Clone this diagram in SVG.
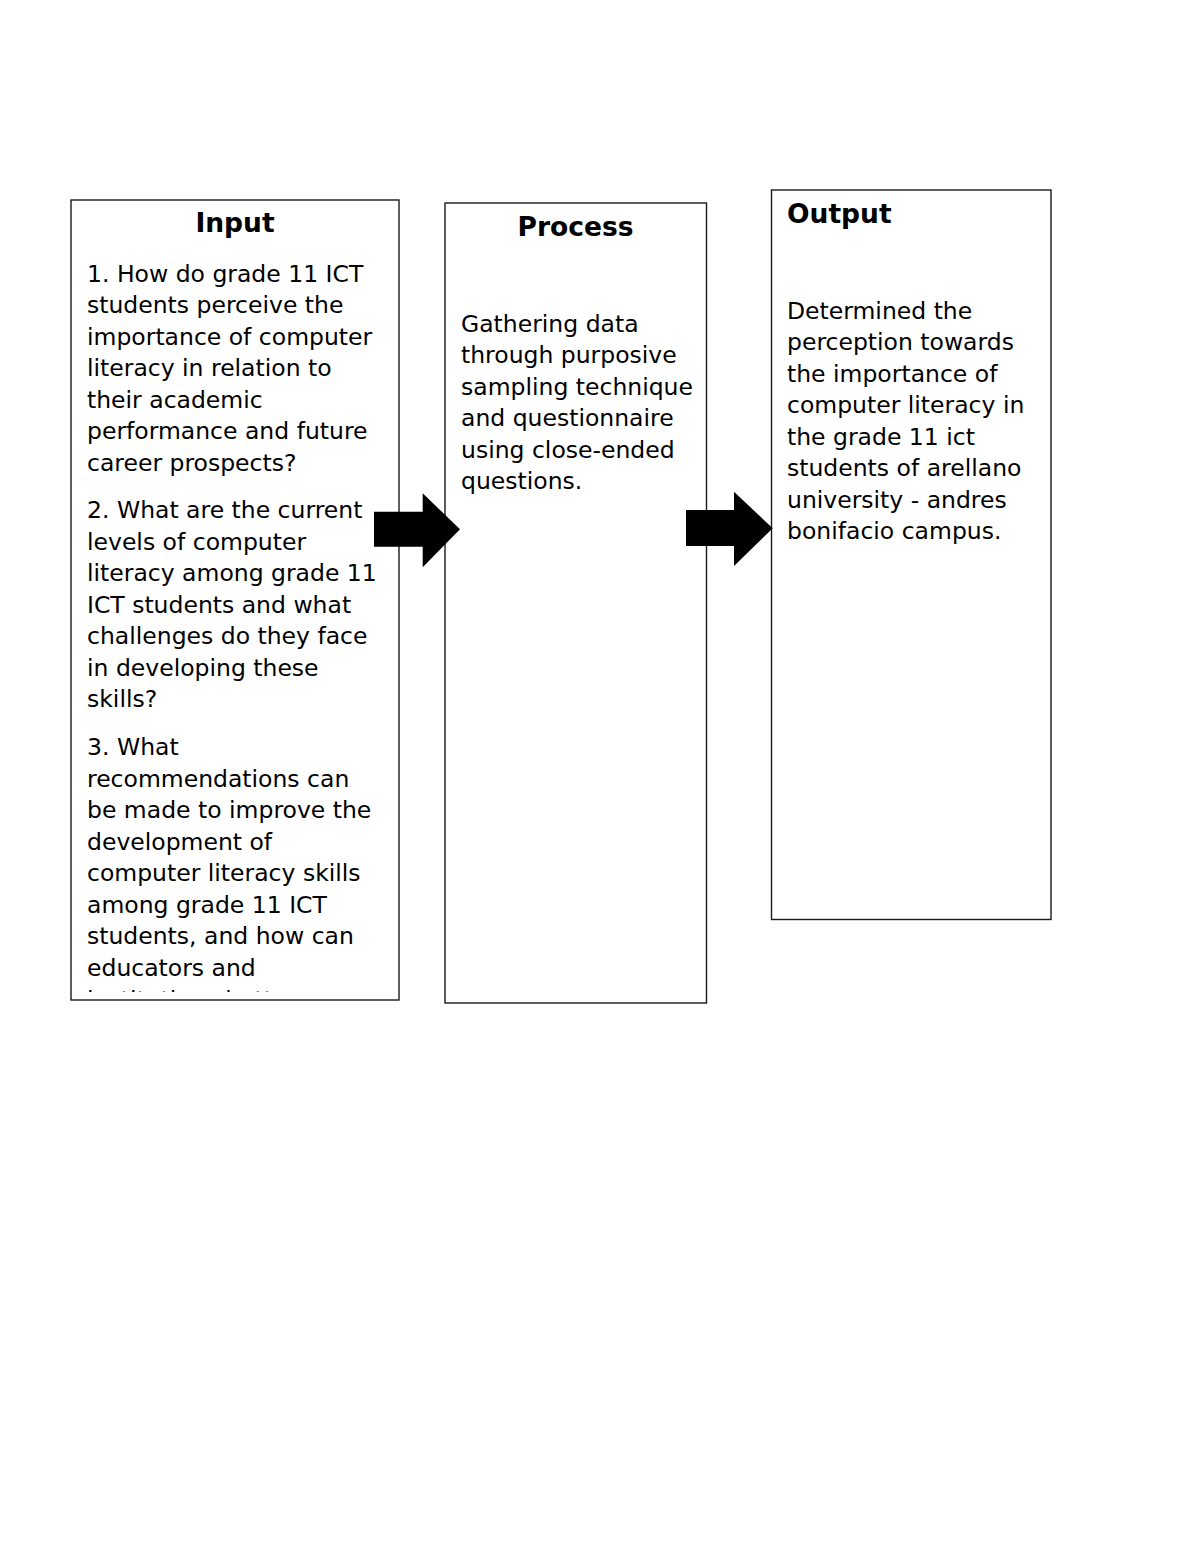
<svg xmlns="http://www.w3.org/2000/svg" width="1200" height="1553" viewBox="0 0 1200 1553">
<style>
.box{fill:#fff;stroke:#1a1a1a;stroke-width:1.4}
.h{font-family:"DejaVu Sans","Liberation Sans",sans-serif;font-weight:bold;font-size:26.5px;fill:#000}
.t{font-family:"DejaVu Sans","Liberation Sans",sans-serif;font-size:23.5px;fill:#000}
.arrow{fill:#000}
</style>
<defs>
<clipPath id="inputClip"><rect x="72" y="201" width="326" height="791"/></clipPath>
</defs>
<rect width="1200" height="1553" fill="#fff"/>
<g id="input">
<rect class="box" x="71" y="200" width="328" height="800"/>
<text class="h" x="235" y="232" text-anchor="middle">Input</text>
<g clip-path="url(#inputClip)">
<text class="t" x="87" y="281.7">1. How do grade 11 ICT</text>
<text class="t" x="87" y="313.2">students perceive the</text>
<text class="t" x="87" y="344.7">importance of computer</text>
<text class="t" x="87" y="376.2">literacy in relation to</text>
<text class="t" x="87" y="407.7">their academic</text>
<text class="t" x="87" y="439.2">performance and future</text>
<text class="t" x="87" y="470.7">career prospects?</text>
<text class="t" x="87" y="518">2. What are the current</text>
<text class="t" x="87" y="549.5">levels of computer</text>
<text class="t" x="87" y="581">literacy among grade 11</text>
<text class="t" x="87" y="612.5">ICT students and what</text>
<text class="t" x="87" y="644">challenges do they face</text>
<text class="t" x="87" y="675.5">in developing these</text>
<text class="t" x="87" y="707">skills?</text>
<text class="t" x="87" y="755">3. What</text>
<text class="t" x="87" y="786.5">recommendations can</text>
<text class="t" x="87" y="818">be made to improve the</text>
<text class="t" x="87" y="849.5">development of</text>
<text class="t" x="87" y="881">computer literacy skills</text>
<text class="t" x="87" y="912.5">among grade 11 ICT</text>
<text class="t" x="87" y="944">students, and how can</text>
<text class="t" x="87" y="975.5">educators and</text>
<text class="t" x="87" y="1007.5">institutions better</text>
</g>
</g>
<g id="process">
<rect class="box" x="445" y="203" width="261.5" height="800"/>
<text class="h" x="575.5" y="235.5" text-anchor="middle">Process</text>
<text class="t" x="461" y="331.5">Gathering data</text>
<text class="t" x="461" y="363">through purposive</text>
<text class="t" x="461" y="394.5">sampling technique</text>
<text class="t" x="461" y="426">and questionnaire</text>
<text class="t" x="461" y="457.5">using close-ended</text>
<text class="t" x="461" y="489">questions.</text>
</g>
<g id="output">
<rect class="box" x="771.5" y="190" width="279.5" height="729.5"/>
<text class="h" x="787" y="223">Output</text>
<text class="t" x="787" y="318.5">Determined the</text>
<text class="t" x="787" y="350">perception towards</text>
<text class="t" x="787" y="381.5">the importance of</text>
<text class="t" x="787" y="413">computer literacy in</text>
<text class="t" x="787" y="444.5">the grade 11 ict</text>
<text class="t" x="787" y="476">students of arellano</text>
<text class="t" x="787" y="507.5">university - andres</text>
<text class="t" x="787" y="539">bonifacio campus.</text>
</g>
<g id="connectors">
<polygon class="arrow" points="374,511.7 422.7,511.7 422.7,493.3 460,529.3 422.7,567.3 422.7,546.7 374,546.7"/>
<polygon class="arrow" points="686,510 734,510 734,491.7 772.7,528.3 734,566 734,546 686,546"/>
</g>
</svg>
